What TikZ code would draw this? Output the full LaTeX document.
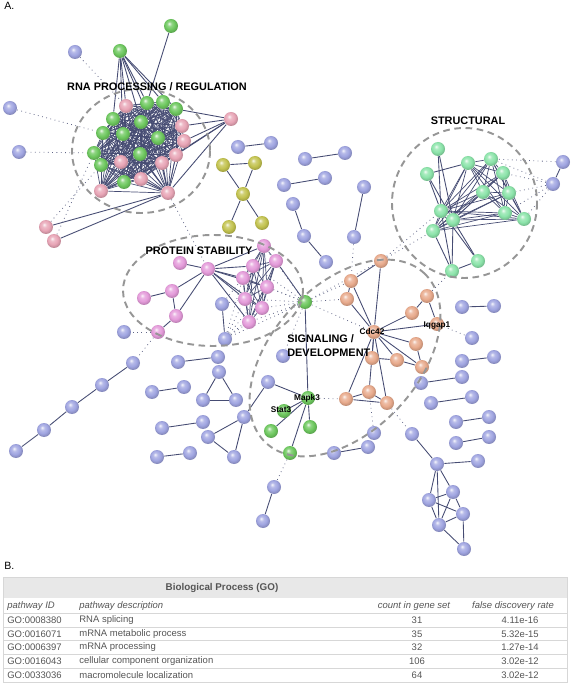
\documentclass[tikz,border=0pt]{standalone}
\usepackage{fontspec}
\setmainfont{Liberation Sans}
\usepackage{xcolor}
\usetikzlibrary{backgrounds}

\definecolor{nblue}{RGB}{160,165,225}
\definecolor{ngreen}{RGB}{110,200,95}
\definecolor{npink}{RGB}{232,165,182}
\definecolor{nyellow}{RGB}{195,195,80}
\definecolor{nmint}{RGB}{140,228,170}
\definecolor{nmag}{RGB}{228,155,218}
\definecolor{norange}{RGB}{232,170,140}
\definecolor{edgec}{RGB}{70,76,115}
\definecolor{ringc}{RGB}{150,150,150}
\definecolor{tabtxt}{RGB}{85,85,85}
\definecolor{tabbar}{RGB}{232,232,232}
\definecolor{tabline}{RGB}{215,215,215}

% softer glossy ball than the default one
\makeatletter
\pgfdeclareradialshading[tikz@ball]{softball}{\pgfqpoint{-7bp}{9bp}}{%
  color(0bp)=(tikz@ball!10!white); color(8bp)=(tikz@ball!75!white);
  color(18bp)=(tikz@ball); color(26bp)=(tikz@ball!85!black);
  color(50bp)=(tikz@ball!55!black)}
\makeatother

\begin{document}
\begin{tikzpicture}[x=0.02cm, y=-0.02cm,
  nd/.style={circle, inner sep=0pt, minimum size=0.28cm},
  bl/.style={nd, ball color=nblue, shading=softball},
  rg/.style={nd, ball color=ngreen, shading=softball},
  rp/.style={nd, ball color=npink, shading=softball},
  yl/.style={nd, ball color=nyellow, shading=softball},
  mt/.style={nd, ball color=nmint, shading=softball},
  mg/.style={nd, ball color=nmag, shading=softball},
  og/.style={nd, ball color=norange, shading=softball},
  ln/.style={draw=edgec, line width=0.5pt},
  dl/.style={draw=edgec!85, line width=0.45pt, dotted},
  mesh/.style={draw=edgec, line width=0.4pt},
  grp/.style={draw=ringc, line width=1.1pt, dash pattern=on 3.8pt off 2.6pt},
  glabel/.style={font=\fontsize{6.2}{8}\selectfont\bfseries, inner sep=0pt},
  gene/.style={font=\fontsize{4.7}{5}\selectfont\bfseries, inner sep=0pt},
  panel/.style={font=\fontsize{6}{7}\selectfont, inner sep=0pt},
  tab/.style={font=\fontsize{5.4}{6}\selectfont, text=tabtxt, inner sep=0pt},
  colh/.style={tab, font=\fontsize{5.4}{6}\selectfont\itshape},
  rowline/.style={draw=tabline, line width=0.4pt}
]
\useasboundingbox (0,0) rectangle (572,685);

% --- Panel letters ---
\node[panel, anchor=north west] (pa) at (4,2) {A.};
\node[panel, anchor=north west] (pb) at (4,562) {B.};

% --- RNA processing cluster ---
\foreach \n/\x/\y in {g1/171/26, g2/120/51, g3/147/103, g4/163/102, g5/176/109,
  g6/113/119, g7/141/122, g8/103/133, g9/123/134, g10/158/138, g11/94/153,
  g12/140/154, g13/101/165, g14/124/182}
  \node[rg] (\n) at (\x,\y) {};
\foreach \n/\x/\y in {p1/126/106, p2/182/126, p3/231/119, p4/184/141, p5/176/155,
  p6/121/162, p7/162/163, p8/141/179, p9/101/191, p10/168/193, p11/46/227, p12/54/241}
  \node[rp] (\n) at (\x,\y) {};

% --- Small yellow module ---
\foreach \n/\x/\y in {y1/223/165, y2/255/163, y3/243/194, y4/229/227, y5/262/223}
  \node[yl] (\n) at (\x,\y) {};

% --- Protein stability ---
\foreach \n/\x/\y in {s1/264/246, s2/180/263, s3/208/269, s4/253/266, s5/276/261,
  s6/243/278, s7/267/287, s8/172/291, s9/144/298, s10/245/299, s11/262/308,
  s12/176/316, s13/249/322, s14/158/332}
  \node[mg] (\n) at (\x,\y) {};

% --- Structural ---
\foreach \n/\x/\y in {t1/438/149, t2/468/163, t3/491/159, t4/427/174, t5/503/173,
  t6/483/192, t7/509/193, t8/441/211, t9/453/220, t10/505/213, t11/524/219,
  t12/433/231, t13/478/261, t14/452/271}
  \node[mt] (\n) at (\x,\y) {};

% --- Signaling / development ---
\foreach \n/\x/\y in {o1/381/261, o2/351/281, o3/347/299, o4/427/296, o5/412/313,
  cdc/374/332, iq/437/324, o6/416/344, o7/372/358, o8/397/360, o9/422/367,
  o10/346/399, o11/369/392, o12/387/403}
  \node[og] (\n) at (\x,\y) {};
\foreach \n/\x/\y in {hub/305/302, mapk/308/398, stat/284/411, h1/271/431,
  h2/310/427, h3/290/453}
  \node[rg] (\n) at (\x,\y) {};

% --- Unclustered proteins ---
\foreach \n/\x/\y in {b1/75/52, b2/10/108, b3/19/152, b4/238/147, b5/271/143,
  b6/305/159, b7/345/153, b8/284/185, b9/325/178, b10/364/187, b11/354/237,
  b12/293/204, b13/304/236, b14/326/262, bs1/222/304, bs2/225/339, bs3/124/332,
  c1/133/363, c2/102/385, c3/72/407, c4/44/430, c5/16/451,
  b15/178/362, b16/218/357, b17/219/372, b18/203/400, b19/236/400,
  b20/152/392, b21/184/387, b22/162/428, b23/203/422, b24/244/417, b25/268/382,
  b26/208/437, b27/234/457, b28/157/457, b29/190/453, b30/283/356,
  b31/274/487, b32/263/521, b33/334/453, b34/368/447, b35/374/433, b36/412/434,
  r1/462/307, r2/494/306, r3/472/338, r4/462/361, r5/494/357, r6/421/383,
  r7/462/377, r8/431/403, r9/472/397, r10/456/422, r11/489/417, r12/456/443,
  r13/489/437, r14/437/464, r15/478/461, r16/453/492, r17/429/500, r18/463/514,
  r19/439/525, r20/464/549, bt1/563/162, bt2/553/184}
  \node[bl] (\n) at (\x,\y) {};

% --- Edges ---
\begin{scope}[on background layer]
\foreach \a [count=\i] in {g3,g4,g5,g6,g7,g8,g9,g10,g11,g12,g13,g14,p1,p2,p4,p5,p6,p7,p8,p9,p10}
  \foreach \b [count=\j] in {g3,g4,g5,g6,g7,g8,g9,g10,g11,g12,g13,g14,p1,p2,p4,p5,p6,p7,p8,p9,p10}
    {\ifnum\j>\i \draw[mesh] (\a) -- (\b);\fi}
\foreach \a [count=\i] in {s1,s4,s5,s6,s7,s10,s11,s13}
  \foreach \b [count=\j] in {s1,s4,s5,s6,s7,s10,s11,s13}
    {\ifnum\j>\i \draw[mesh] (\a) -- (\b);\fi}
\foreach \a [count=\i] in {t2,t3,t5,t6,t7,t8,t9,t10,t11,t12}
  \foreach \b [count=\j] in {t2,t3,t5,t6,t7,t8,t9,t10,t11,t12}
    {\ifnum\j>\i \draw[mesh] (\a) -- (\b);\fi}
\foreach \a/\b in {g1/g3, g2/g6, g2/p1, g2/g3, g2/g4, g2/g5, g2/g7, g2/g9, g2/g10,
  p3/p2, p3/p4, p3/p5, p3/p7, p3/p10, p3/g5, p11/p10, p12/p10,
  y1/y2, y1/y3, y2/y3, y3/y4, y3/y5,
  b4/b5, b6/b7, b8/b9, b10/b11, b12/b13, b13/b14,
  s3/s2, s3/s8, s3/s12, s3/s1, s3/s4, s3/s6, s3/s7, s3/s10, s3/s11, s3/s13,
  s8/s9, s8/s12, s12/s14, bs1/bs2, s5/hub,
  c1/c2, c2/c3, c3/c4, c4/c5,
  b15/b16, b17/b18, b17/b19, b18/b19, b20/b21, b22/b23, b24/b25, b24/b26,
  b24/b27, b26/b27, b28/b29, mapk/b25, b31/b32, b33/b34,
  hub/mapk, mapk/stat, mapk/h1, mapk/h2, mapk/h3,
  cdc/o1, cdc/o2, cdc/o3, cdc/o5, cdc/iq, cdc/o6, cdc/o7, cdc/o8, cdc/o9,
  cdc/o10, cdc/o11, cdc/o12, o4/o5, o4/iq, o6/o9, o7/o8, o8/o9,
  o10/o11, o10/o12, o11/o12, o1/o2, o2/o3,
  r1/r2, r4/r5, r6/r7, r8/r9, r10/r11, r12/r13, b36/r14, r14/r15, r14/r16,
  r14/r17, r14/r19, r16/r17, r16/r18, r16/r19, r17/r18, r17/r19, r18/r19,
  r18/r20, r19/r20,
  bt1/bt2, t1/t8, t1/t9, t4/t2, t4/t8, t4/t9, t13/t9, t13/t8, t14/t8,
  t14/t9, t14/t12, t13/t14}
  \draw[ln] (\a) -- (\b);
\foreach \a/\b in {b1/p1, b2/g8, b3/g11, p11/g13, p12/g11, p10/s3,
  s14/bs3, s14/c1, bs2/s6, bs2/s7, bs2/s10, bs2/s11, bs2/s13, bs1/s6, bs1/s10,
  hub/s1, hub/s4, hub/s6, hub/s7, hub/s10, hub/s11, hub/s13, hub/bs2, hub/b30,
  hub/o1, hub/o2, hub/o3, hub/cdc,
  b11/o2, o1/t12, o1/t8, o4/t14, iq/r3, o11/b35, o12/b36, mapk/o10, h3/b31,
  bt2/t3, bt2/t5, bt2/t7, bt2/t10, bt2/t11, bt1/t3}
  \draw[dl] (\a) -- (\b);
\end{scope}

% --- Group outlines ---
\draw[grp] (141,151) ellipse (69 and 62);
\draw[grp] (213,290.5) ellipse (90 and 55.5);
\draw[grp] (464.5,203) ellipse (72.5 and 75);
\draw[grp, rotate around={47:(345,358)}] (345,358) ellipse (116 and 73);

% --- Group labels ---
\node[glabel] (lrna) at (157,87) {RNA PROCESSING / REGULATION};
\node[glabel] (lstr) at (468,121) {STRUCTURAL};
\node[glabel] (lps) at (199,251) {PROTEIN STABILITY};
\node[glabel, anchor=west, align=left] (lsig) at (287,346) {SIGNALING /\\DEVELOPMENT};

% --- Gene names ---
\node[gene] (ncdc) at (372,332) {Cdc42};
\node[gene] (niq) at (437,326) {Iqgap1};
\node[gene] (nmapk) at (307,398) {Mapk3};
\node[gene] (nstat) at (281,410) {Stat3};

% --- Table ---
\fill[tabbar] (3,577) rectangle (567,598);
\draw[tabline, line width=0.4pt] (3,577) rectangle (567,682);
\node[tab, font=\fontsize{5.6}{6}\selectfont\bfseries] (bp) at (222,587.5) {Biological Process (GO)};
\node[colh, anchor=west] (cid) at (7,606) {pathway ID};
\node[colh, anchor=west] (cdesc) at (79,606) {pathway description};
\node[colh] (ccnt) at (414,606) {count in gene set};
\node[colh] (cfdr) at (513,606) {false discovery rate};
\foreach \y in {613.5,627,640.5,654,668}
  \draw[rowline] (3,\y) -- (567,\y);
\foreach \y/\id/\desc/\cnt/\fdr in {620.5/GO:0008380/RNA splicing/31/4.11e-16,
  634/GO:0016071/mRNA metabolic process/35/5.32e-15,
  647.5/GO:0006397/mRNA processing/32/1.27e-14,
  661/GO:0016043/cellular component organization/106/3.02e-12,
  675/GO:0033036/macromolecule localization/64/3.02e-12}
{
  \node[tab, anchor=west] (go\cnt) at (7,\y) {\id};
  \node[tab, anchor=west] (ds\cnt) at (79,\y) {\desc};
  \node[tab] (ct\cnt) at (417,\y) {\cnt};
  \node[tab] (fd\cnt) at (520,\y) {\fdr};
}

\end{tikzpicture}
\end{document}
